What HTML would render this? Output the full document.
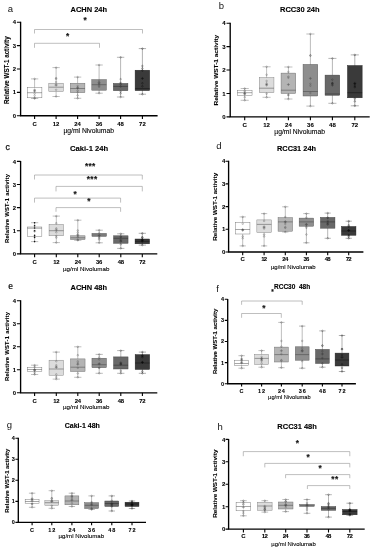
<!DOCTYPE html>
<html lang="en">
<head>
<meta charset="utf-8">
<title>Relative WST-1 activity under Nivolumab</title>
<style>
html,body{margin:0;padding:0;background:#fff;}
body{width:373px;height:550px;overflow:hidden;font-family:"Liberation Sans",Arial,sans-serif;}
svg{display:block;}
text{font-family:"Liberation Sans",Arial,sans-serif;fill:#111;}
.br{fill:none;stroke:#8a8a8a;stroke-width:.55;}
.st{font-weight:bold;text-anchor:middle;fill:#111;stroke:#111;stroke-width:.15;}
.wh{fill:none;stroke-width:.4;}
.pt{fill:none;stroke-width:.3;}
.mn{fill:none;stroke-width:.4;}
.bx{stroke-width:.42;}
.md{fill:none;stroke-width:.45;}
.axl{fill:none;stroke:#000;stroke-width:1.35;stroke-linejoin:miter;}
.tk{fill:none;stroke:#000;stroke-width:1.1;}
.tl{font-weight:bold;fill:#000;stroke:#000;stroke-width:.08;}
.ti{font-weight:bold;fill:#000;stroke:#000;stroke-width:.12;}
.xl{fill:#000;stroke:#000;stroke-width:.1;}
.yl{font-weight:bold;fill:#000;stroke:#000;stroke-width:.1;}
.lb{fill:#111;}
</style>
</head>
<body>
<svg width="373" height="550" viewBox="0 0 373 550">
<rect width="373" height="550" fill="#fff"/>
<g id="panel-a">
<path class="br" d="M34.5 33.5V29.5H142.5V33.5"/>
<text class="st" font-size="8.3" x="85.2" y="23.05">*</text>
<path class="br" d="M34.5 47.8V43.3H99.5V47.8"/>
<text class="st" font-size="8.3" x="67.5" y="39.45">*</text>
<path class="wh" stroke="#606060" d="M34.6 78.9V98.5M30.95 78.9H38.25M30.95 98.5H38.25"/>
<rect class="bx" x="27.3" y="87.7" width="14.6" height="10.1" fill="#ffffff" stroke="#666"/>
<path class="md" stroke="#3a3a3a" d="M27.3 92.7H41.9"/>
<path class="pt" stroke="#444" d="M33.8 78.9a.8 .8 0 1 0 1.6 0a.8 .8 0 1 0-1.6 0M33.8 98.5a.8 .8 0 1 0 1.6 0a.8 .8 0 1 0-1.6 0M33.8 93.66a.8 .8 0 1 0 1.6 0a.8 .8 0 1 0-1.6 0M33.8 89.74a.8 .8 0 1 0 1.6 0a.8 .8 0 1 0-1.6 0M33.8 97.91a.8 .8 0 1 0 1.6 0a.8 .8 0 1 0-1.6 0M33.8 90.5a.8 .8 0 1 0 1.6 0a.8 .8 0 1 0-1.6 0M33.8 95.68a.8 .8 0 1 0 1.6 0a.8 .8 0 1 0-1.6 0"/>
<path class="mn" stroke="#444" d="M33.1 91.12h3M34.6 89.62v3"/>
<path class="wh" stroke="#666" d="M56.1 67.6V96.5M52.45 67.6H59.75M52.45 96.5H59.75"/>
<rect class="bx" x="48.8" y="83.2" width="14.6" height="8.3" fill="#dcdcdc" stroke="#777"/>
<path class="md" stroke="#3a3a3a" d="M48.8 87.2H63.4"/>
<path class="pt" stroke="#444" d="M55.3 67.6a.8 .8 0 1 0 1.6 0a.8 .8 0 1 0-1.6 0M55.3 96.5a.8 .8 0 1 0 1.6 0a.8 .8 0 1 0-1.6 0M55.3 82a.8 .8 0 1 0 1.6 0a.8 .8 0 1 0-1.6 0M55.3 78.12a.8 .8 0 1 0 1.6 0a.8 .8 0 1 0-1.6 0M55.3 84.54a.8 .8 0 1 0 1.6 0a.8 .8 0 1 0-1.6 0M55.3 78.88a.8 .8 0 1 0 1.6 0a.8 .8 0 1 0-1.6 0M55.3 89.74a.8 .8 0 1 0 1.6 0a.8 .8 0 1 0-1.6 0"/>
<path class="mn" stroke="#444" d="M54.6 85.2h3M56.1 83.7v3"/>
<path class="wh" stroke="#5e5e5e" d="M77.6 77.1V98.3M73.95 77.1H81.25M73.95 98.3H81.25"/>
<rect class="bx" x="70.3" y="83.2" width="14.6" height="9.5" fill="#b4b4b4" stroke="#636363"/>
<path class="md" stroke="#3a3a3a" d="M70.3 88.5H84.9"/>
<path class="pt" stroke="#444" d="M76.8 77.1a.8 .8 0 1 0 1.6 0a.8 .8 0 1 0-1.6 0M76.8 98.3a.8 .8 0 1 0 1.6 0a.8 .8 0 1 0-1.6 0M76.8 87.73a.8 .8 0 1 0 1.6 0a.8 .8 0 1 0-1.6 0M76.8 85.98a.8 .8 0 1 0 1.6 0a.8 .8 0 1 0-1.6 0M76.8 90.43a.8 .8 0 1 0 1.6 0a.8 .8 0 1 0-1.6 0M76.8 95.44a.8 .8 0 1 0 1.6 0a.8 .8 0 1 0-1.6 0M76.8 92.1a.8 .8 0 1 0 1.6 0a.8 .8 0 1 0-1.6 0"/>
<path class="mn" stroke="#444" d="M76.1 87.96h3M77.6 86.46v3"/>
<path class="wh" stroke="#555" d="M99.1 65V93.2M95.45 65H102.75M95.45 93.2H102.75"/>
<rect class="bx" x="91.8" y="79.6" width="14.6" height="10.6" fill="#8e8e8e" stroke="#505050"/>
<path class="md" stroke="#3a3a3a" d="M91.8 84.7H106.4"/>
<path class="pt" stroke="#444" d="M98.3 65a.8 .8 0 1 0 1.6 0a.8 .8 0 1 0-1.6 0M98.3 93.2a.8 .8 0 1 0 1.6 0a.8 .8 0 1 0-1.6 0M98.3 85.62a.8 .8 0 1 0 1.6 0a.8 .8 0 1 0-1.6 0M98.3 84.08a.8 .8 0 1 0 1.6 0a.8 .8 0 1 0-1.6 0M98.3 86.79a.8 .8 0 1 0 1.6 0a.8 .8 0 1 0-1.6 0M98.3 80.92a.8 .8 0 1 0 1.6 0a.8 .8 0 1 0-1.6 0M98.3 83.58a.8 .8 0 1 0 1.6 0a.8 .8 0 1 0-1.6 0"/>
<path class="mn" stroke="#444" d="M97.6 82.54h3M99.1 81.04v3"/>
<path class="wh" stroke="#4a4a4a" d="M120.6 57.3V97M116.95 57.3H124.25M116.95 97H124.25"/>
<rect class="bx" x="113.3" y="83.4" width="14.6" height="7.3" fill="#686868" stroke="#3c3c3c"/>
<path class="md" stroke="#222" d="M113.3 86.4H127.9"/>
<path class="pt" stroke="#2a2a2a" d="M119.8 57.3a.8 .8 0 1 0 1.6 0a.8 .8 0 1 0-1.6 0M119.8 97a.8 .8 0 1 0 1.6 0a.8 .8 0 1 0-1.6 0M119.8 79.15a.8 .8 0 1 0 1.6 0a.8 .8 0 1 0-1.6 0M119.8 86.56a.8 .8 0 1 0 1.6 0a.8 .8 0 1 0-1.6 0M119.8 84.48a.8 .8 0 1 0 1.6 0a.8 .8 0 1 0-1.6 0M119.8 91.68a.8 .8 0 1 0 1.6 0a.8 .8 0 1 0-1.6 0M119.8 93.45a.8 .8 0 1 0 1.6 0a.8 .8 0 1 0-1.6 0"/>
<path class="mn" stroke="#2a2a2a" d="M119.1 82.96h3M120.6 81.46v3"/>
<path class="wh" stroke="#3a3a3a" d="M142.4 48.6V94.2M138.75 48.6H146.05M138.75 94.2H146.05"/>
<rect class="bx" x="135.1" y="70.2" width="14.6" height="20.4" fill="#3a3a3a" stroke="#1e1e1e"/>
<path class="md" stroke="#0c0c0c" d="M135.1 88.6H149.7"/>
<path class="pt" stroke="#000" d="M141.6 48.6a.8 .8 0 1 0 1.6 0a.8 .8 0 1 0-1.6 0M141.6 94.2a.8 .8 0 1 0 1.6 0a.8 .8 0 1 0-1.6 0M141.6 70.55a.8 .8 0 1 0 1.6 0a.8 .8 0 1 0-1.6 0M141.6 86.29a.8 .8 0 1 0 1.6 0a.8 .8 0 1 0-1.6 0M141.6 68.46a.8 .8 0 1 0 1.6 0a.8 .8 0 1 0-1.6 0M141.6 83.24a.8 .8 0 1 0 1.6 0a.8 .8 0 1 0-1.6 0M141.6 65.98a.8 .8 0 1 0 1.6 0a.8 .8 0 1 0-1.6 0"/>
<path class="mn" stroke="#000" d="M140.9 78.44h3M142.4 76.94v3"/>
<path class="axl" d="M20.6 21.8V115.7H157.6"/>
<path class="tk" d="M16.9 115.7H20.6M16.9 92.33H20.6M16.9 68.95H20.6M16.9 45.58H20.6M16.9 22.2H20.6M34.6 115.7V119M56.1 115.7V119M77.6 115.7V119M99.1 115.7V119M120.6 115.7V119M142.4 115.7V119"/>
<text class="tl" font-size="5.9" text-anchor="end" x="16" y="117.82">0</text>
<text class="tl" font-size="5.9" text-anchor="end" x="16" y="94.45">1</text>
<text class="tl" font-size="5.9" text-anchor="end" x="16" y="71.07">2</text>
<text class="tl" font-size="5.9" text-anchor="end" x="16" y="47.7">3</text>
<text class="tl" font-size="5.9" text-anchor="end" x="16" y="24.32">4</text>
<text class="tl" font-size="5.9" text-anchor="middle" x="34.6" y="125.72">C</text>
<text class="tl" font-size="5.9" text-anchor="middle" x="56.1" y="125.72">12</text>
<text class="tl" font-size="5.9" text-anchor="middle" x="77.6" y="125.72">24</text>
<text class="tl" font-size="5.9" text-anchor="middle" x="99.1" y="125.72">36</text>
<text class="tl" font-size="5.9" text-anchor="middle" x="120.6" y="125.72">48</text>
<text class="tl" font-size="5.9" text-anchor="middle" x="142.4" y="125.72">72</text>
<text class="ti" font-size="7.4" text-anchor="middle" x="88.8" y="12" style="white-space:pre" textLength="36.4" lengthAdjust="spacingAndGlyphs">ACHN 24h</text>
<text class="xl" font-size="6.8" text-anchor="middle" x="88.7" y="132.5" textLength="50.6" lengthAdjust="spacingAndGlyphs">µg/ml Nivolumab</text>
<text class="yl" font-size="6.3" transform="translate(8.5 104) rotate(-90)" textLength="67.6" lengthAdjust="spacingAndGlyphs">Relative WST-1 activity</text>
<text class="lb" style='font-family:"Liberation Sans",Arial,sans-serif' font-size="9.5" font-weight="normal" text-anchor="middle" x="10.5" y="11.6">a</text>
</g>
<g id="panel-b">
<path class="wh" stroke="#606060" d="M244.7 88.5V100.3M240.66 88.5H248.74M240.66 100.3H248.74"/>
<rect class="bx" x="237.35" y="90.2" width="14.7" height="5.1" fill="#ffffff" stroke="#666"/>
<path class="md" stroke="#3a3a3a" d="M237.35 92.7H252.05"/>
<path class="pt" stroke="#444" d="M243.9 88.5a.8 .8 0 1 0 1.6 0a.8 .8 0 1 0-1.6 0M243.9 100.3a.8 .8 0 1 0 1.6 0a.8 .8 0 1 0-1.6 0M243.9 90.76a.8 .8 0 1 0 1.6 0a.8 .8 0 1 0-1.6 0M243.9 93.8a.8 .8 0 1 0 1.6 0a.8 .8 0 1 0-1.6 0M243.9 97.2a.8 .8 0 1 0 1.6 0a.8 .8 0 1 0-1.6 0M243.9 94.15a.8 .8 0 1 0 1.6 0a.8 .8 0 1 0-1.6 0M243.9 91.91a.8 .8 0 1 0 1.6 0a.8 .8 0 1 0-1.6 0"/>
<path class="mn" stroke="#444" d="M243.2 93.4h3M244.7 91.9v3"/>
<path class="wh" stroke="#666" d="M266.6 66.8V97.3M262.56 66.8H270.64M262.56 97.3H270.64"/>
<rect class="bx" x="259.25" y="77.6" width="14.7" height="15.1" fill="#dcdcdc" stroke="#777"/>
<path class="md" stroke="#3a3a3a" d="M259.25 88.2H273.95"/>
<path class="pt" stroke="#444" d="M265.8 66.8a.8 .8 0 1 0 1.6 0a.8 .8 0 1 0-1.6 0M265.8 97.3a.8 .8 0 1 0 1.6 0a.8 .8 0 1 0-1.6 0M265.8 74.78a.8 .8 0 1 0 1.6 0a.8 .8 0 1 0-1.6 0M265.8 93.7a.8 .8 0 1 0 1.6 0a.8 .8 0 1 0-1.6 0M265.8 80.96a.8 .8 0 1 0 1.6 0a.8 .8 0 1 0-1.6 0M265.8 85.35a.8 .8 0 1 0 1.6 0a.8 .8 0 1 0-1.6 0M265.8 83.4a.8 .8 0 1 0 1.6 0a.8 .8 0 1 0-1.6 0"/>
<path class="mn" stroke="#444" d="M265.1 84.52h3M266.6 83.02v3"/>
<path class="wh" stroke="#5e5e5e" d="M288.4 67V99M284.36 67H292.44M284.36 99H292.44"/>
<rect class="bx" x="281.05" y="73.1" width="14.7" height="20.4" fill="#b4b4b4" stroke="#636363"/>
<path class="md" stroke="#3a3a3a" d="M281.05 90.2H295.75"/>
<path class="pt" stroke="#444" d="M287.6 67a.8 .8 0 1 0 1.6 0a.8 .8 0 1 0-1.6 0M287.6 99a.8 .8 0 1 0 1.6 0a.8 .8 0 1 0-1.6 0M287.6 95.24a.8 .8 0 1 0 1.6 0a.8 .8 0 1 0-1.6 0M287.6 94.75a.8 .8 0 1 0 1.6 0a.8 .8 0 1 0-1.6 0M287.6 76.61a.8 .8 0 1 0 1.6 0a.8 .8 0 1 0-1.6 0M287.6 71.88a.8 .8 0 1 0 1.6 0a.8 .8 0 1 0-1.6 0M287.6 77.79a.8 .8 0 1 0 1.6 0a.8 .8 0 1 0-1.6 0"/>
<path class="mn" stroke="#444" d="M286.9 84.56h3M288.4 83.06v3"/>
<path class="wh" stroke="#555" d="M310.4 34V106.1M306.36 34H314.44M306.36 106.1H314.44"/>
<rect class="bx" x="303.05" y="64.4" width="14.7" height="31.6" fill="#8e8e8e" stroke="#505050"/>
<path class="md" stroke="#3a3a3a" d="M303.05 91.5H317.75"/>
<path class="pt" stroke="#444" d="M309.6 34a.8 .8 0 1 0 1.6 0a.8 .8 0 1 0-1.6 0M309.6 106.1a.8 .8 0 1 0 1.6 0a.8 .8 0 1 0-1.6 0M309.6 55.7a.8 .8 0 1 0 1.6 0a.8 .8 0 1 0-1.6 0M309.6 55.3a.8 .8 0 1 0 1.6 0a.8 .8 0 1 0-1.6 0M309.6 85.76a.8 .8 0 1 0 1.6 0a.8 .8 0 1 0-1.6 0M309.6 92.99a.8 .8 0 1 0 1.6 0a.8 .8 0 1 0-1.6 0M309.6 83.83a.8 .8 0 1 0 1.6 0a.8 .8 0 1 0-1.6 0"/>
<path class="mn" stroke="#444" d="M308.9 78.4h3M310.4 76.9v3"/>
<path class="wh" stroke="#4a4a4a" d="M332.4 58.4V103.3M328.36 58.4H336.44M328.36 103.3H336.44"/>
<rect class="bx" x="325.05" y="75.1" width="14.7" height="20.2" fill="#686868" stroke="#3c3c3c"/>
<path class="md" stroke="#222" d="M325.05 94H339.75"/>
<path class="pt" stroke="#2a2a2a" d="M331.6 58.4a.8 .8 0 1 0 1.6 0a.8 .8 0 1 0-1.6 0M331.6 103.3a.8 .8 0 1 0 1.6 0a.8 .8 0 1 0-1.6 0M331.6 83.35a.8 .8 0 1 0 1.6 0a.8 .8 0 1 0-1.6 0M331.6 83.24a.8 .8 0 1 0 1.6 0a.8 .8 0 1 0-1.6 0M331.6 79.67a.8 .8 0 1 0 1.6 0a.8 .8 0 1 0-1.6 0M331.6 84.36a.8 .8 0 1 0 1.6 0a.8 .8 0 1 0-1.6 0M331.6 83.06a.8 .8 0 1 0 1.6 0a.8 .8 0 1 0-1.6 0"/>
<path class="mn" stroke="#2a2a2a" d="M330.9 85.22h3M332.4 83.72v3"/>
<path class="wh" stroke="#3a3a3a" d="M354.8 54.9V105.8M350.76 54.9H358.84M350.76 105.8H358.84"/>
<rect class="bx" x="347.45" y="65.5" width="14.7" height="32.3" fill="#3a3a3a" stroke="#1e1e1e"/>
<path class="md" stroke="#0c0c0c" d="M347.45 92.7H362.15"/>
<path class="pt" stroke="#000" d="M354 54.9a.8 .8 0 1 0 1.6 0a.8 .8 0 1 0-1.6 0M354 105.8a.8 .8 0 1 0 1.6 0a.8 .8 0 1 0-1.6 0M354 84.03a.8 .8 0 1 0 1.6 0a.8 .8 0 1 0-1.6 0M354 98.66a.8 .8 0 1 0 1.6 0a.8 .8 0 1 0-1.6 0M354 86.01a.8 .8 0 1 0 1.6 0a.8 .8 0 1 0-1.6 0M354 87.17a.8 .8 0 1 0 1.6 0a.8 .8 0 1 0-1.6 0M354 101.37a.8 .8 0 1 0 1.6 0a.8 .8 0 1 0-1.6 0"/>
<path class="mn" stroke="#000" d="M353.3 83.34h3M354.8 81.84v3"/>
<path class="axl" d="M230.2 22.8V116.85H369.7"/>
<path class="tk" d="M226.5 116.85H230.2M226.5 93.44H230.2M226.5 70.03H230.2M226.5 46.61H230.2M226.5 23.2H230.2M244.7 116.85V120.15M266.6 116.85V120.15M288.4 116.85V120.15M310.4 116.85V120.15M332.4 116.85V120.15M354.8 116.85V120.15"/>
<text class="tl" font-size="6.05" text-anchor="end" x="225.6" y="119.03">0</text>
<text class="tl" font-size="6.05" text-anchor="end" x="225.6" y="95.62">1</text>
<text class="tl" font-size="6.05" text-anchor="end" x="225.6" y="72.2">2</text>
<text class="tl" font-size="6.05" text-anchor="end" x="225.6" y="48.79">3</text>
<text class="tl" font-size="6.05" text-anchor="end" x="225.6" y="25.38">4</text>
<text class="tl" font-size="6.05" text-anchor="middle" x="244.7" y="127.23">C</text>
<text class="tl" font-size="6.05" text-anchor="middle" x="266.6" y="127.23">12</text>
<text class="tl" font-size="6.05" text-anchor="middle" x="288.4" y="127.23">24</text>
<text class="tl" font-size="6.05" text-anchor="middle" x="310.4" y="127.23">36</text>
<text class="tl" font-size="6.05" text-anchor="middle" x="332.4" y="127.23">48</text>
<text class="tl" font-size="6.05" text-anchor="middle" x="354.8" y="127.23">72</text>
<text class="ti" font-size="7.5" text-anchor="middle" x="299.8" y="12.2" style="white-space:pre" textLength="39.6" lengthAdjust="spacingAndGlyphs">RCC30 24h</text>
<text class="xl" font-size="6.8" text-anchor="middle" x="299.6" y="134" textLength="50.7" lengthAdjust="spacingAndGlyphs">µg/ml Nivolumab</text>
<text class="yl" font-size="6.2" transform="translate(218.1 105.5) rotate(-90)" textLength="70.6" lengthAdjust="spacingAndGlyphs">Relative WST-1 activity</text>
<text class="lb" style='font-family:"Liberation Sans",Arial,sans-serif' font-size="9.5" font-weight="normal" text-anchor="middle" x="221.4" y="9">b</text>
</g>
<g id="panel-c">
<path class="br" d="M34.5 179.5V175H142.3V179.5"/>
<text class="st" font-size="8.3" letter-spacing=".3" x="90.25" y="168.55">***</text>
<path class="br" d="M56 191.4V186.4H142.3V191.4"/>
<text class="st" font-size="8.3" letter-spacing=".3" x="92.15" y="182.35">***</text>
<path class="br" d="M34.5 202.6V198.1H120.6V202.6"/>
<text class="st" font-size="8.3" x="75.1" y="196.55">*</text>
<path class="br" d="M56 211.8V207.6H120.6V211.8"/>
<text class="st" font-size="8.3" x="88.9" y="203.55">*</text>
<path class="wh" stroke="#606060" d="M34.6 222.7V241.6M30.98 222.7H38.23M30.98 241.6H38.23"/>
<rect class="bx" x="27.35" y="227" width="14.5" height="9.3" fill="#ffffff" stroke="#666"/>
<path class="md" stroke="#3a3a3a" d="M27.35 228.2H41.85"/>
<path d="M33.8 222.7a.8 .8 0 1 0 1.6 0a.8 .8 0 1 0-1.6 0M33.8 241.6a.8 .8 0 1 0 1.6 0a.8 .8 0 1 0-1.6 0M33.8 227.97a.8 .8 0 1 0 1.6 0a.8 .8 0 1 0-1.6 0M33.8 230.72a.8 .8 0 1 0 1.6 0a.8 .8 0 1 0-1.6 0M33.8 225.72a.8 .8 0 1 0 1.6 0a.8 .8 0 1 0-1.6 0M33.8 237.39a.8 .8 0 1 0 1.6 0a.8 .8 0 1 0-1.6 0M33.8 235.4a.8 .8 0 1 0 1.6 0a.8 .8 0 1 0-1.6 0" fill="#111" stroke="none"/>
<path class="mn" stroke="#444" d="M33.1 231.16h3M34.6 229.66v3"/>
<path class="wh" stroke="#666" d="M56.3 216.1V242.6M52.67 216.1H59.92M52.67 242.6H59.92"/>
<rect class="bx" x="49.05" y="224.4" width="14.5" height="11.4" fill="#dcdcdc" stroke="#777"/>
<path class="md" stroke="#3a3a3a" d="M49.05 230.7H63.55"/>
<path class="pt" stroke="#444" d="M55.5 216.1a.8 .8 0 1 0 1.6 0a.8 .8 0 1 0-1.6 0M55.5 242.6a.8 .8 0 1 0 1.6 0a.8 .8 0 1 0-1.6 0M55.5 232.31a.8 .8 0 1 0 1.6 0a.8 .8 0 1 0-1.6 0M55.5 235.91a.8 .8 0 1 0 1.6 0a.8 .8 0 1 0-1.6 0M55.5 237.57a.8 .8 0 1 0 1.6 0a.8 .8 0 1 0-1.6 0M55.5 223.17a.8 .8 0 1 0 1.6 0a.8 .8 0 1 0-1.6 0M55.5 228.37a.8 .8 0 1 0 1.6 0a.8 .8 0 1 0-1.6 0"/>
<path class="mn" stroke="#444" d="M54.8 229.92h3M56.3 228.42v3"/>
<path class="wh" stroke="#5e5e5e" d="M77.8 220.2V240.3M74.17 220.2H81.42M74.17 240.3H81.42"/>
<rect class="bx" x="70.55" y="235.8" width="14.5" height="3.8" fill="#b4b4b4" stroke="#636363"/>
<path class="md" stroke="#3a3a3a" d="M70.55 237.8H85.05"/>
<path class="pt" stroke="#444" d="M77 220.2a.8 .8 0 1 0 1.6 0a.8 .8 0 1 0-1.6 0M77 240.3a.8 .8 0 1 0 1.6 0a.8 .8 0 1 0-1.6 0M77 230.45a.8 .8 0 1 0 1.6 0a.8 .8 0 1 0-1.6 0M77 235.88a.8 .8 0 1 0 1.6 0a.8 .8 0 1 0-1.6 0M77 232.5a.8 .8 0 1 0 1.6 0a.8 .8 0 1 0-1.6 0M77 237.34a.8 .8 0 1 0 1.6 0a.8 .8 0 1 0-1.6 0M77 239.81a.8 .8 0 1 0 1.6 0a.8 .8 0 1 0-1.6 0"/>
<path class="mn" stroke="#444" d="M76.3 234.74h3M77.8 233.24v3"/>
<path class="wh" stroke="#555" d="M99.2 230.2V242.8M95.58 230.2H102.83M95.58 242.8H102.83"/>
<rect class="bx" x="91.95" y="233.3" width="14.5" height="3.2" fill="#8e8e8e" stroke="#505050"/>
<path class="md" stroke="#3a3a3a" d="M91.95 235H106.45"/>
<path class="pt" stroke="#444" d="M98.4 230.2a.8 .8 0 1 0 1.6 0a.8 .8 0 1 0-1.6 0M98.4 242.8a.8 .8 0 1 0 1.6 0a.8 .8 0 1 0-1.6 0M98.4 233.28a.8 .8 0 1 0 1.6 0a.8 .8 0 1 0-1.6 0M98.4 238.23a.8 .8 0 1 0 1.6 0a.8 .8 0 1 0-1.6 0M98.4 239.52a.8 .8 0 1 0 1.6 0a.8 .8 0 1 0-1.6 0M98.4 237.3a.8 .8 0 1 0 1.6 0a.8 .8 0 1 0-1.6 0M98.4 235.43a.8 .8 0 1 0 1.6 0a.8 .8 0 1 0-1.6 0"/>
<path class="mn" stroke="#444" d="M97.7 235.56h3M99.2 234.06v3"/>
<path class="wh" stroke="#4a4a4a" d="M120.8 233.8V248.4M117.17 233.8H124.42M117.17 248.4H124.42"/>
<rect class="bx" x="113.55" y="235.8" width="14.5" height="7.5" fill="#686868" stroke="#3c3c3c"/>
<path class="md" stroke="#222" d="M113.55 238.3H128.05"/>
<path class="pt" stroke="#2a2a2a" d="M120 233.8a.8 .8 0 1 0 1.6 0a.8 .8 0 1 0-1.6 0M120 248.4a.8 .8 0 1 0 1.6 0a.8 .8 0 1 0-1.6 0M120 236.99a.8 .8 0 1 0 1.6 0a.8 .8 0 1 0-1.6 0M120 241.44a.8 .8 0 1 0 1.6 0a.8 .8 0 1 0-1.6 0M120 236.72a.8 .8 0 1 0 1.6 0a.8 .8 0 1 0-1.6 0M120 241.11a.8 .8 0 1 0 1.6 0a.8 .8 0 1 0-1.6 0M120 244.38a.8 .8 0 1 0 1.6 0a.8 .8 0 1 0-1.6 0"/>
<path class="mn" stroke="#2a2a2a" d="M119.3 239.92h3M120.8 238.42v3"/>
<path class="wh" stroke="#3a3a3a" d="M142.3 233.3V245.1M138.68 233.3H145.93M138.68 245.1H145.93"/>
<rect class="bx" x="135.05" y="239" width="14.5" height="4.8" fill="#3a3a3a" stroke="#1e1e1e"/>
<path class="md" stroke="#0c0c0c" d="M135.05 241.3H149.55"/>
<path class="pt" stroke="#000" d="M141.5 233.3a.8 .8 0 1 0 1.6 0a.8 .8 0 1 0-1.6 0M141.5 245.1a.8 .8 0 1 0 1.6 0a.8 .8 0 1 0-1.6 0M141.5 239.21a.8 .8 0 1 0 1.6 0a.8 .8 0 1 0-1.6 0M141.5 237.58a.8 .8 0 1 0 1.6 0a.8 .8 0 1 0-1.6 0M141.5 241.67a.8 .8 0 1 0 1.6 0a.8 .8 0 1 0-1.6 0M141.5 237.2a.8 .8 0 1 0 1.6 0a.8 .8 0 1 0-1.6 0M141.5 239.98a.8 .8 0 1 0 1.6 0a.8 .8 0 1 0-1.6 0"/>
<path class="mn" stroke="#000" d="M140.8 240.5h3M142.3 239v3"/>
<path class="axl" d="M20.6 161V253.9H157.3"/>
<path class="tk" d="M16.9 253.9H20.6M16.9 230.78H20.6M16.9 207.65H20.6M16.9 184.53H20.6M16.9 161.4H20.6M34.6 253.9V257.2M56.3 253.9V257.2M77.8 253.9V257.2M99.2 253.9V257.2M120.8 253.9V257.2M142.3 253.9V257.2"/>
<text class="tl" font-size="5.9" text-anchor="end" x="16" y="256.02">0</text>
<text class="tl" font-size="5.9" text-anchor="end" x="16" y="232.9">1</text>
<text class="tl" font-size="5.9" text-anchor="end" x="16" y="209.77">2</text>
<text class="tl" font-size="5.9" text-anchor="end" x="16" y="186.65">3</text>
<text class="tl" font-size="5.9" text-anchor="end" x="16" y="163.52">4</text>
<text class="tl" font-size="5.9" text-anchor="middle" letter-spacing="-0.3" x="34.45" y="263.92">C</text>
<text class="tl" font-size="5.9" text-anchor="middle" letter-spacing="-0.3" x="56.15" y="263.92">12</text>
<text class="tl" font-size="5.9" text-anchor="middle" letter-spacing="-0.3" x="77.65" y="263.92">24</text>
<text class="tl" font-size="5.9" text-anchor="middle" letter-spacing="-0.3" x="99.05" y="263.92">36</text>
<text class="tl" font-size="5.9" text-anchor="middle" letter-spacing="-0.3" x="120.65" y="263.92">48</text>
<text class="tl" font-size="5.9" text-anchor="middle" letter-spacing="-0.3" x="142.15" y="263.92">72</text>
<text class="ti" font-size="7.5" text-anchor="middle" x="89.1" y="151.2" style="white-space:pre" textLength="38.2" lengthAdjust="spacingAndGlyphs">Caki-1 24h</text>
<text class="xl" font-size="6.2" text-anchor="middle" x="86.2" y="270.5" textLength="46.5" lengthAdjust="spacingAndGlyphs">µg/ml Nivolumab</text>
<text class="yl" font-size="5.9" transform="translate(8.5 243.05) rotate(-90)" textLength="69.1" lengthAdjust="spacing">Relative WST-1 activity</text>
<text class="lb" style='font-family:"Liberation Sans",Arial,sans-serif' font-size="8.8" font-weight="normal" text-anchor="middle" stroke="#111" stroke-width="0.25" x="7.8" y="150.1">c</text>
</g>
<g id="panel-d">
<path class="wh" stroke="#606060" d="M242.7 216.9V245.9M239.58 216.9H245.82M239.58 245.9H245.82"/>
<rect class="bx" x="235.45" y="222.4" width="14.5" height="11.6" fill="#ffffff" stroke="#666"/>
<path class="md" stroke="#3a3a3a" d="M235.45 229.5H249.95"/>
<path class="pt" stroke="#444" d="M241.9 216.9a.8 .8 0 1 0 1.6 0a.8 .8 0 1 0-1.6 0M241.9 245.9a.8 .8 0 1 0 1.6 0a.8 .8 0 1 0-1.6 0M241.9 230a.8 .8 0 1 0 1.6 0a.8 .8 0 1 0-1.6 0M241.9 236.44a.8 .8 0 1 0 1.6 0a.8 .8 0 1 0-1.6 0M241.9 223.74a.8 .8 0 1 0 1.6 0a.8 .8 0 1 0-1.6 0M241.9 230.21a.8 .8 0 1 0 1.6 0a.8 .8 0 1 0-1.6 0M241.9 238.32a.8 .8 0 1 0 1.6 0a.8 .8 0 1 0-1.6 0"/>
<path class="mn" stroke="#444" d="M241.2 229.74h3M242.7 228.24v3"/>
<path class="wh" stroke="#666" d="M264.1 213.6V245.9M260.98 213.6H267.22M260.98 245.9H267.22"/>
<rect class="bx" x="256.85" y="219.9" width="14.5" height="12.6" fill="#dcdcdc" stroke="#777"/>
<path class="md" stroke="#3a3a3a" d="M256.85 224.4H271.35"/>
<path class="pt" stroke="#444" d="M263.3 213.6a.8 .8 0 1 0 1.6 0a.8 .8 0 1 0-1.6 0M263.3 245.9a.8 .8 0 1 0 1.6 0a.8 .8 0 1 0-1.6 0M263.3 234.55a.8 .8 0 1 0 1.6 0a.8 .8 0 1 0-1.6 0M263.3 226.76a.8 .8 0 1 0 1.6 0a.8 .8 0 1 0-1.6 0M263.3 236.52a.8 .8 0 1 0 1.6 0a.8 .8 0 1 0-1.6 0M263.3 228.58a.8 .8 0 1 0 1.6 0a.8 .8 0 1 0-1.6 0M263.3 220.96a.8 .8 0 1 0 1.6 0a.8 .8 0 1 0-1.6 0"/>
<path class="mn" stroke="#444" d="M262.6 227.26h3M264.1 225.76v3"/>
<path class="wh" stroke="#5e5e5e" d="M285.3 206.8V232M282.18 206.8H288.42M282.18 232H288.42"/>
<rect class="bx" x="278.05" y="217.6" width="14.5" height="13.6" fill="#b4b4b4" stroke="#636363"/>
<path class="md" stroke="#3a3a3a" d="M278.05 221.9H292.55"/>
<path class="pt" stroke="#444" d="M284.5 206.8a.8 .8 0 1 0 1.6 0a.8 .8 0 1 0-1.6 0M284.5 232a.8 .8 0 1 0 1.6 0a.8 .8 0 1 0-1.6 0M284.5 221.79a.8 .8 0 1 0 1.6 0a.8 .8 0 1 0-1.6 0M284.5 223.96a.8 .8 0 1 0 1.6 0a.8 .8 0 1 0-1.6 0M284.5 217.03a.8 .8 0 1 0 1.6 0a.8 .8 0 1 0-1.6 0M284.5 227.88a.8 .8 0 1 0 1.6 0a.8 .8 0 1 0-1.6 0M284.5 227.09a.8 .8 0 1 0 1.6 0a.8 .8 0 1 0-1.6 0"/>
<path class="mn" stroke="#444" d="M283.8 221.9h3M285.3 220.4v3"/>
<path class="wh" stroke="#555" d="M306.4 213.6V242.8M303.28 213.6H309.52M303.28 242.8H309.52"/>
<rect class="bx" x="299.15" y="218.1" width="14.5" height="8.1" fill="#8e8e8e" stroke="#505050"/>
<path class="md" stroke="#3a3a3a" d="M299.15 221.9H313.65"/>
<path class="pt" stroke="#444" d="M305.6 213.6a.8 .8 0 1 0 1.6 0a.8 .8 0 1 0-1.6 0M305.6 242.8a.8 .8 0 1 0 1.6 0a.8 .8 0 1 0-1.6 0M305.6 224.21a.8 .8 0 1 0 1.6 0a.8 .8 0 1 0-1.6 0M305.6 234.5a.8 .8 0 1 0 1.6 0a.8 .8 0 1 0-1.6 0M305.6 226.27a.8 .8 0 1 0 1.6 0a.8 .8 0 1 0-1.6 0M305.6 217.72a.8 .8 0 1 0 1.6 0a.8 .8 0 1 0-1.6 0M305.6 227.75a.8 .8 0 1 0 1.6 0a.8 .8 0 1 0-1.6 0"/>
<path class="mn" stroke="#444" d="M304.9 224.52h3M306.4 223.02v3"/>
<path class="wh" stroke="#4a4a4a" d="M327.7 213.1V238.3M324.58 213.1H330.82M324.58 238.3H330.82"/>
<rect class="bx" x="320.45" y="217.4" width="14.5" height="10.8" fill="#686868" stroke="#3c3c3c"/>
<path class="md" stroke="#222" d="M320.45 221.9H334.95"/>
<path class="pt" stroke="#2a2a2a" d="M326.9 213.1a.8 .8 0 1 0 1.6 0a.8 .8 0 1 0-1.6 0M326.9 238.3a.8 .8 0 1 0 1.6 0a.8 .8 0 1 0-1.6 0M326.9 217.83a.8 .8 0 1 0 1.6 0a.8 .8 0 1 0-1.6 0M326.9 224.45a.8 .8 0 1 0 1.6 0a.8 .8 0 1 0-1.6 0M326.9 222.27a.8 .8 0 1 0 1.6 0a.8 .8 0 1 0-1.6 0M326.9 217.79a.8 .8 0 1 0 1.6 0a.8 .8 0 1 0-1.6 0M326.9 220.98a.8 .8 0 1 0 1.6 0a.8 .8 0 1 0-1.6 0"/>
<path class="mn" stroke="#2a2a2a" d="M326.2 223.78h3M327.7 222.28v3"/>
<path class="wh" stroke="#3a3a3a" d="M348.7 221.2V238.3M345.58 221.2H351.82M345.58 238.3H351.82"/>
<rect class="bx" x="341.45" y="226.5" width="14.5" height="8.8" fill="#3a3a3a" stroke="#1e1e1e"/>
<path class="md" stroke="#0c0c0c" d="M341.45 231H355.95"/>
<path class="pt" stroke="#000" d="M347.9 221.2a.8 .8 0 1 0 1.6 0a.8 .8 0 1 0-1.6 0M347.9 238.3a.8 .8 0 1 0 1.6 0a.8 .8 0 1 0-1.6 0M347.9 230.45a.8 .8 0 1 0 1.6 0a.8 .8 0 1 0-1.6 0M347.9 226.64a.8 .8 0 1 0 1.6 0a.8 .8 0 1 0-1.6 0M347.9 235.07a.8 .8 0 1 0 1.6 0a.8 .8 0 1 0-1.6 0M347.9 225.26a.8 .8 0 1 0 1.6 0a.8 .8 0 1 0-1.6 0M347.9 236.3a.8 .8 0 1 0 1.6 0a.8 .8 0 1 0-1.6 0"/>
<path class="mn" stroke="#000" d="M347.2 230.46h3M348.7 228.96v3"/>
<path class="axl" d="M228.6 160.8V252H363.4"/>
<path class="tk" d="M225.6 252H228.6M225.6 229.3H228.6M225.6 206.6H228.6M225.6 183.9H228.6M225.6 161.2H228.6M242.7 252V255.3M264.1 252V255.3M285.3 252V255.3M306.4 252V255.3M327.7 252V255.3M348.7 252V255.3"/>
<text class="tl" font-size="6.0" text-anchor="end" x="225.3" y="254.16">0</text>
<text class="tl" font-size="6.0" text-anchor="end" x="225.3" y="231.46">1</text>
<text class="tl" font-size="6.0" text-anchor="end" x="225.3" y="208.76">2</text>
<text class="tl" font-size="6.0" text-anchor="end" x="225.3" y="186.06">3</text>
<text class="tl" font-size="6.0" text-anchor="end" x="225.3" y="163.36">4</text>
<text class="tl" font-size="6.0" text-anchor="middle" letter-spacing="-0.8" x="242.3" y="261.26">C</text>
<text class="tl" font-size="6.0" text-anchor="middle" letter-spacing="-0.8" x="263.7" y="261.26">12</text>
<text class="tl" font-size="6.0" text-anchor="middle" letter-spacing="-0.8" x="284.9" y="261.26">24</text>
<text class="tl" font-size="6.0" text-anchor="middle" letter-spacing="-0.8" x="306" y="261.26">36</text>
<text class="tl" font-size="6.0" text-anchor="middle" letter-spacing="-0.8" x="327.3" y="261.26">48</text>
<text class="tl" font-size="6.0" text-anchor="middle" letter-spacing="-0.8" x="348.3" y="261.26">72</text>
<text class="ti" font-size="7.6" text-anchor="middle" x="296.5" y="151.2" style="white-space:pre" textLength="39" lengthAdjust="spacingAndGlyphs">RCC31 24h</text>
<text class="xl" font-size="6.2" text-anchor="middle" x="293.3" y="268.8" textLength="44.8" lengthAdjust="spacingAndGlyphs">µg/ml Nivolumab</text>
<text class="yl" font-size="5.9" transform="translate(217.2 240.7) rotate(-90)" textLength="67.8" lengthAdjust="spacingAndGlyphs">Relative WST-1 activity</text>
<text class="lb" style='font-family:"Liberation Sans",Arial,sans-serif' font-size="9.5" font-weight="normal" text-anchor="middle" x="219" y="148.6">d</text>
</g>
<g id="panel-e">
<path class="wh" stroke="#606060" d="M34.6 365.2V374.5M30.98 365.2H38.23M30.98 374.5H38.23"/>
<rect class="bx" x="27.35" y="367.7" width="14.5" height="3.8" fill="#ffffff" stroke="#666"/>
<path class="md" stroke="#3a3a3a" d="M27.35 369.5H41.85"/>
<path class="pt" stroke="#444" d="M33.8 365.2a.8 .8 0 1 0 1.6 0a.8 .8 0 1 0-1.6 0M33.8 374.5a.8 .8 0 1 0 1.6 0a.8 .8 0 1 0-1.6 0M33.8 370.6a.8 .8 0 1 0 1.6 0a.8 .8 0 1 0-1.6 0M33.8 372.8a.8 .8 0 1 0 1.6 0a.8 .8 0 1 0-1.6 0M33.8 369.56a.8 .8 0 1 0 1.6 0a.8 .8 0 1 0-1.6 0M33.8 367.01a.8 .8 0 1 0 1.6 0a.8 .8 0 1 0-1.6 0M33.8 370.31a.8 .8 0 1 0 1.6 0a.8 .8 0 1 0-1.6 0"/>
<path class="mn" stroke="#444" d="M33.1 369.68h3M34.6 368.18v3"/>
<path class="wh" stroke="#666" d="M56.3 352.1V379.1M52.67 352.1H59.92M52.67 379.1H59.92"/>
<rect class="bx" x="49.05" y="360.2" width="14.5" height="15.1" fill="#dcdcdc" stroke="#777"/>
<path class="md" stroke="#3a3a3a" d="M49.05 369H63.55"/>
<path class="pt" stroke="#444" d="M55.5 352.1a.8 .8 0 1 0 1.6 0a.8 .8 0 1 0-1.6 0M55.5 379.1a.8 .8 0 1 0 1.6 0a.8 .8 0 1 0-1.6 0M55.5 365.21a.8 .8 0 1 0 1.6 0a.8 .8 0 1 0-1.6 0M55.5 361.27a.8 .8 0 1 0 1.6 0a.8 .8 0 1 0-1.6 0M55.5 377.11a.8 .8 0 1 0 1.6 0a.8 .8 0 1 0-1.6 0M55.5 367.11a.8 .8 0 1 0 1.6 0a.8 .8 0 1 0-1.6 0M55.5 374.38a.8 .8 0 1 0 1.6 0a.8 .8 0 1 0-1.6 0"/>
<path class="mn" stroke="#444" d="M54.8 367.14h3M56.3 365.64v3"/>
<path class="wh" stroke="#5e5e5e" d="M77.8 346.8V377.3M74.17 346.8H81.42M74.17 377.3H81.42"/>
<rect class="bx" x="70.55" y="358.9" width="14.5" height="12.6" fill="#b4b4b4" stroke="#636363"/>
<path class="md" stroke="#3a3a3a" d="M70.55 367.2H85.05"/>
<path class="pt" stroke="#444" d="M77 346.8a.8 .8 0 1 0 1.6 0a.8 .8 0 1 0-1.6 0M77 377.3a.8 .8 0 1 0 1.6 0a.8 .8 0 1 0-1.6 0M77 355.2a.8 .8 0 1 0 1.6 0a.8 .8 0 1 0-1.6 0M77 361.33a.8 .8 0 1 0 1.6 0a.8 .8 0 1 0-1.6 0M77 362.96a.8 .8 0 1 0 1.6 0a.8 .8 0 1 0-1.6 0M77 367.87a.8 .8 0 1 0 1.6 0a.8 .8 0 1 0-1.6 0M77 373.46a.8 .8 0 1 0 1.6 0a.8 .8 0 1 0-1.6 0"/>
<path class="mn" stroke="#444" d="M76.3 364.34h3M77.8 362.84v3"/>
<path class="wh" stroke="#555" d="M99.2 354.4V373.3M95.58 354.4H102.83M95.58 373.3H102.83"/>
<rect class="bx" x="91.95" y="358.2" width="14.5" height="9.5" fill="#8e8e8e" stroke="#505050"/>
<path class="md" stroke="#3a3a3a" d="M91.95 364.7H106.45"/>
<path class="pt" stroke="#444" d="M98.4 354.4a.8 .8 0 1 0 1.6 0a.8 .8 0 1 0-1.6 0M98.4 373.3a.8 .8 0 1 0 1.6 0a.8 .8 0 1 0-1.6 0M98.4 367.98a.8 .8 0 1 0 1.6 0a.8 .8 0 1 0-1.6 0M98.4 357.44a.8 .8 0 1 0 1.6 0a.8 .8 0 1 0-1.6 0M98.4 367.62a.8 .8 0 1 0 1.6 0a.8 .8 0 1 0-1.6 0M98.4 359.49a.8 .8 0 1 0 1.6 0a.8 .8 0 1 0-1.6 0M98.4 364.14a.8 .8 0 1 0 1.6 0a.8 .8 0 1 0-1.6 0"/>
<path class="mn" stroke="#444" d="M97.7 363.66h3M99.2 362.16v3"/>
<path class="wh" stroke="#4a4a4a" d="M120.8 350.6V373.3M117.17 350.6H124.42M117.17 373.3H124.42"/>
<rect class="bx" x="113.55" y="356.9" width="14.5" height="12.1" fill="#686868" stroke="#3c3c3c"/>
<path class="md" stroke="#222" d="M113.55 365.2H128.05"/>
<path class="pt" stroke="#2a2a2a" d="M120 350.6a.8 .8 0 1 0 1.6 0a.8 .8 0 1 0-1.6 0M120 373.3a.8 .8 0 1 0 1.6 0a.8 .8 0 1 0-1.6 0M120 370.94a.8 .8 0 1 0 1.6 0a.8 .8 0 1 0-1.6 0M120 364.12a.8 .8 0 1 0 1.6 0a.8 .8 0 1 0-1.6 0M120 364.05a.8 .8 0 1 0 1.6 0a.8 .8 0 1 0-1.6 0M120 364.44a.8 .8 0 1 0 1.6 0a.8 .8 0 1 0-1.6 0M120 362.93a.8 .8 0 1 0 1.6 0a.8 .8 0 1 0-1.6 0"/>
<path class="mn" stroke="#2a2a2a" d="M119.3 363h3M120.8 361.5v3"/>
<path class="wh" stroke="#3a3a3a" d="M142.4 352.1V373.3M138.78 352.1H146.03M138.78 373.3H146.03"/>
<rect class="bx" x="135.15" y="354.6" width="14.5" height="14.9" fill="#3a3a3a" stroke="#1e1e1e"/>
<path class="md" stroke="#0c0c0c" d="M135.15 363H149.65"/>
<path class="pt" stroke="#000" d="M141.6 352.1a.8 .8 0 1 0 1.6 0a.8 .8 0 1 0-1.6 0M141.6 373.3a.8 .8 0 1 0 1.6 0a.8 .8 0 1 0-1.6 0M141.6 355.49a.8 .8 0 1 0 1.6 0a.8 .8 0 1 0-1.6 0M141.6 362.02a.8 .8 0 1 0 1.6 0a.8 .8 0 1 0-1.6 0M141.6 371.37a.8 .8 0 1 0 1.6 0a.8 .8 0 1 0-1.6 0M141.6 356.06a.8 .8 0 1 0 1.6 0a.8 .8 0 1 0-1.6 0M141.6 357.25a.8 .8 0 1 0 1.6 0a.8 .8 0 1 0-1.6 0"/>
<path class="mn" stroke="#000" d="M140.9 362.5h3M142.4 361v3"/>
<path class="axl" d="M20.6 300.3V392.8H157.3"/>
<path class="tk" d="M16.9 392.8H20.6M16.9 369.77H20.6M16.9 346.75H20.6M16.9 323.73H20.6M16.9 300.7H20.6M34.6 392.8V396.1M56.3 392.8V396.1M77.8 392.8V396.1M99.2 392.8V396.1M120.8 392.8V396.1M142.4 392.8V396.1"/>
<text class="tl" font-size="5.9" text-anchor="end" x="16" y="394.92">0</text>
<text class="tl" font-size="5.9" text-anchor="end" x="16" y="371.9">1</text>
<text class="tl" font-size="5.9" text-anchor="end" x="16" y="348.87">2</text>
<text class="tl" font-size="5.9" text-anchor="end" x="16" y="325.85">3</text>
<text class="tl" font-size="5.9" text-anchor="end" x="16" y="302.82">4</text>
<text class="tl" font-size="5.9" text-anchor="middle" letter-spacing="-0.3" x="34.45" y="403.12">C</text>
<text class="tl" font-size="5.9" text-anchor="middle" letter-spacing="-0.3" x="56.15" y="403.12">12</text>
<text class="tl" font-size="5.9" text-anchor="middle" letter-spacing="-0.3" x="77.65" y="403.12">24</text>
<text class="tl" font-size="5.9" text-anchor="middle" letter-spacing="-0.3" x="99.05" y="403.12">36</text>
<text class="tl" font-size="5.9" text-anchor="middle" letter-spacing="-0.3" x="120.65" y="403.12">48</text>
<text class="tl" font-size="5.9" text-anchor="middle" letter-spacing="-0.3" x="142.25" y="403.12">72</text>
<text class="ti" font-size="7.5" text-anchor="middle" x="88.8" y="289.7" style="white-space:pre" textLength="36.4" lengthAdjust="spacingAndGlyphs">ACHN 48h</text>
<text class="xl" font-size="6.2" text-anchor="middle" x="86.2" y="408.9" textLength="46.5" lengthAdjust="spacingAndGlyphs">µg/ml Nivolumab</text>
<text class="yl" font-size="5.9" transform="translate(8.5 381.05) rotate(-90)" textLength="69.1" lengthAdjust="spacing">Relative WST-1 activity</text>
<text class="lb" style='font-family:"Liberation Serif",serif' font-size="10.5" font-weight="normal" text-anchor="middle" stroke="#111" stroke-width="0.2" x="10.6" y="288.9">e</text>
</g>
<g id="panel-f">
<path class="br" d="M241.6 304.8V301H302.2V304.8"/>
<text class="st" font-size="6.4" x="272.5" y="294.1">*</text>
<path class="br" d="M241.6 317.8V313.5H281.3V317.8"/>
<text class="st" font-size="8.3" x="263.8" y="310.65">*</text>
<path class="wh" stroke="#606060" d="M241.6 355.7V368.2M238.43 355.7H244.77M238.43 368.2H244.77"/>
<rect class="bx" x="234.7" y="360.2" width="13.8" height="5" fill="#ffffff" stroke="#666"/>
<path class="md" stroke="#3a3a3a" d="M234.7 363.5H248.5"/>
<path class="pt" stroke="#444" d="M240.8 355.7a.8 .8 0 1 0 1.6 0a.8 .8 0 1 0-1.6 0M240.8 368.2a.8 .8 0 1 0 1.6 0a.8 .8 0 1 0-1.6 0M240.8 360.27a.8 .8 0 1 0 1.6 0a.8 .8 0 1 0-1.6 0M240.8 358.84a.8 .8 0 1 0 1.6 0a.8 .8 0 1 0-1.6 0M240.8 361.12a.8 .8 0 1 0 1.6 0a.8 .8 0 1 0-1.6 0M240.8 363.29a.8 .8 0 1 0 1.6 0a.8 .8 0 1 0-1.6 0M240.8 359.26a.8 .8 0 1 0 1.6 0a.8 .8 0 1 0-1.6 0"/>
<path class="mn" stroke="#444" d="M240.1 362.56h3M241.6 361.06v3"/>
<path class="wh" stroke="#666" d="M261.6 350.6V367.2M258.43 350.6H264.77M258.43 367.2H264.77"/>
<rect class="bx" x="254.7" y="354.4" width="13.8" height="10.1" fill="#dcdcdc" stroke="#777"/>
<path class="md" stroke="#3a3a3a" d="M254.7 358.4H268.5"/>
<path class="pt" stroke="#444" d="M260.8 350.6a.8 .8 0 1 0 1.6 0a.8 .8 0 1 0-1.6 0M260.8 367.2a.8 .8 0 1 0 1.6 0a.8 .8 0 1 0-1.6 0M260.8 356.96a.8 .8 0 1 0 1.6 0a.8 .8 0 1 0-1.6 0M260.8 360.86a.8 .8 0 1 0 1.6 0a.8 .8 0 1 0-1.6 0M260.8 358.58a.8 .8 0 1 0 1.6 0a.8 .8 0 1 0-1.6 0M260.8 363.3a.8 .8 0 1 0 1.6 0a.8 .8 0 1 0-1.6 0M260.8 360.08a.8 .8 0 1 0 1.6 0a.8 .8 0 1 0-1.6 0"/>
<path class="mn" stroke="#444" d="M260.1 359.02h3M261.6 357.52v3"/>
<path class="wh" stroke="#5e5e5e" d="M281.4 322.4V367.7M278.23 322.4H284.57M278.23 367.7H284.57"/>
<rect class="bx" x="274.5" y="347.1" width="13.8" height="14.9" fill="#b4b4b4" stroke="#636363"/>
<path class="md" stroke="#3a3a3a" d="M274.5 354.6H288.3"/>
<path class="pt" stroke="#444" d="M280.6 322.4a.8 .8 0 1 0 1.6 0a.8 .8 0 1 0-1.6 0M280.6 367.7a.8 .8 0 1 0 1.6 0a.8 .8 0 1 0-1.6 0M280.6 360.16a.8 .8 0 1 0 1.6 0a.8 .8 0 1 0-1.6 0M280.6 354.04a.8 .8 0 1 0 1.6 0a.8 .8 0 1 0-1.6 0M280.6 340.97a.8 .8 0 1 0 1.6 0a.8 .8 0 1 0-1.6 0M280.6 346.61a.8 .8 0 1 0 1.6 0a.8 .8 0 1 0-1.6 0M280.6 360.75a.8 .8 0 1 0 1.6 0a.8 .8 0 1 0-1.6 0"/>
<path class="mn" stroke="#444" d="M279.9 350.76h3M281.4 349.26v3"/>
<path class="wh" stroke="#555" d="M302.2 326.1V368.2M299.03 326.1H305.37M299.03 368.2H305.37"/>
<rect class="bx" x="295.3" y="346.8" width="13.8" height="13.4" fill="#8e8e8e" stroke="#505050"/>
<path class="md" stroke="#3a3a3a" d="M295.3 354.6H309.1"/>
<path class="pt" stroke="#444" d="M301.4 326.1a.8 .8 0 1 0 1.6 0a.8 .8 0 1 0-1.6 0M301.4 368.2a.8 .8 0 1 0 1.6 0a.8 .8 0 1 0-1.6 0M301.4 350.34a.8 .8 0 1 0 1.6 0a.8 .8 0 1 0-1.6 0M301.4 340.9a.8 .8 0 1 0 1.6 0a.8 .8 0 1 0-1.6 0M301.4 361.18a.8 .8 0 1 0 1.6 0a.8 .8 0 1 0-1.6 0M301.4 348.11a.8 .8 0 1 0 1.6 0a.8 .8 0 1 0-1.6 0M301.4 350.63a.8 .8 0 1 0 1.6 0a.8 .8 0 1 0-1.6 0"/>
<path class="mn" stroke="#444" d="M300.7 351.18h3M302.2 349.68v3"/>
<path class="wh" stroke="#4a4a4a" d="M322.4 330.9V367.2M319.23 330.9H325.57M319.23 367.2H325.57"/>
<rect class="bx" x="315.5" y="349.4" width="13.8" height="14.1" fill="#686868" stroke="#3c3c3c"/>
<path class="md" stroke="#222" d="M315.5 358.9H329.3"/>
<path class="pt" stroke="#2a2a2a" d="M321.6 330.9a.8 .8 0 1 0 1.6 0a.8 .8 0 1 0-1.6 0M321.6 367.2a.8 .8 0 1 0 1.6 0a.8 .8 0 1 0-1.6 0M321.6 358a.8 .8 0 1 0 1.6 0a.8 .8 0 1 0-1.6 0M321.6 363.39a.8 .8 0 1 0 1.6 0a.8 .8 0 1 0-1.6 0M321.6 345.51a.8 .8 0 1 0 1.6 0a.8 .8 0 1 0-1.6 0M321.6 351.11a.8 .8 0 1 0 1.6 0a.8 .8 0 1 0-1.6 0M321.6 345.72a.8 .8 0 1 0 1.6 0a.8 .8 0 1 0-1.6 0"/>
<path class="mn" stroke="#2a2a2a" d="M320.9 353.98h3M322.4 352.48v3"/>
<path class="wh" stroke="#3a3a3a" d="M342 335.5V371.5M338.83 335.5H345.17M338.83 371.5H345.17"/>
<rect class="bx" x="335.1" y="353.1" width="13.8" height="12.9" fill="#3a3a3a" stroke="#1e1e1e"/>
<path class="md" stroke="#0c0c0c" d="M335.1 360H348.9"/>
<path class="pt" stroke="#000" d="M341.2 335.5a.8 .8 0 1 0 1.6 0a.8 .8 0 1 0-1.6 0M341.2 371.5a.8 .8 0 1 0 1.6 0a.8 .8 0 1 0-1.6 0M341.2 349.05a.8 .8 0 1 0 1.6 0a.8 .8 0 1 0-1.6 0M341.2 367.88a.8 .8 0 1 0 1.6 0a.8 .8 0 1 0-1.6 0M341.2 349.12a.8 .8 0 1 0 1.6 0a.8 .8 0 1 0-1.6 0M341.2 354.87a.8 .8 0 1 0 1.6 0a.8 .8 0 1 0-1.6 0M341.2 364.33a.8 .8 0 1 0 1.6 0a.8 .8 0 1 0-1.6 0"/>
<path class="mn" stroke="#000" d="M340.5 357.22h3M342 355.72v3"/>
<path class="axl" d="M227.7 298.9V383.7H355.9"/>
<path class="tk" d="M224.8 383.7H227.7M224.8 362.6H227.7M224.8 341.5H227.7M224.8 320.4H227.7M224.8 299.3H227.7M241.6 383.7V386.6M261.6 383.7V386.6M281.4 383.7V386.6M302.2 383.7V386.6M322.4 383.7V386.6M342 383.7V386.6"/>
<text class="tl" font-size="5.5" text-anchor="end" x="224.1" y="385.68">0</text>
<text class="tl" font-size="5.5" text-anchor="end" x="224.1" y="364.58">1</text>
<text class="tl" font-size="5.5" text-anchor="end" x="224.1" y="343.48">2</text>
<text class="tl" font-size="5.5" text-anchor="end" x="224.1" y="322.38">3</text>
<text class="tl" font-size="5.5" text-anchor="end" x="224.1" y="301.28">4</text>
<text class="tl" font-size="5.5" text-anchor="middle" letter-spacing="0.9" x="242.05" y="392.88">C</text>
<text class="tl" font-size="5.5" text-anchor="middle" letter-spacing="0.9" x="262.05" y="392.88">12</text>
<text class="tl" font-size="5.5" text-anchor="middle" letter-spacing="0.9" x="281.85" y="392.88">24</text>
<text class="tl" font-size="5.5" text-anchor="middle" letter-spacing="0.9" x="302.65" y="392.88">36</text>
<text class="tl" font-size="5.5" text-anchor="middle" letter-spacing="0.9" x="322.85" y="392.88">48</text>
<text class="tl" font-size="5.5" text-anchor="middle" letter-spacing="0.9" x="342.45" y="392.88">72</text>
<text class="ti" font-size="7.2" text-anchor="middle" x="292.1" y="288.9" style="white-space:pre" textLength="36.2" lengthAdjust="spacingAndGlyphs">RCC30  48h</text>
<text class="xl" font-size="6.0" text-anchor="middle" x="289.4" y="398.9" textLength="42.6" lengthAdjust="spacingAndGlyphs">µg/ml Nivolumab</text>
<text class="yl" font-size="6.0" transform="translate(216.8 374.05) rotate(-90)" textLength="65.3" lengthAdjust="spacingAndGlyphs">Relative WST-1 activity</text>
<text class="lb" style='font-family:"Liberation Sans",Arial,sans-serif' font-size="9.5" font-weight="normal" text-anchor="middle" x="217.6" y="292">f</text>
</g>
<g id="panel-g">
<path class="wh" stroke="#606060" d="M32.1 493.2V507.3M28.9 493.2H35.3M28.9 507.3H35.3"/>
<rect class="bx" x="25.15" y="499.7" width="13.9" height="3.5" fill="#ffffff" stroke="#666"/>
<path class="md" stroke="#3a3a3a" d="M25.15 501.5H39.05"/>
<path class="pt" stroke="#444" d="M31.3 493.2a.8 .8 0 1 0 1.6 0a.8 .8 0 1 0-1.6 0M31.3 507.3a.8 .8 0 1 0 1.6 0a.8 .8 0 1 0-1.6 0M31.3 498.69a.8 .8 0 1 0 1.6 0a.8 .8 0 1 0-1.6 0M31.3 503.62a.8 .8 0 1 0 1.6 0a.8 .8 0 1 0-1.6 0M31.3 504.12a.8 .8 0 1 0 1.6 0a.8 .8 0 1 0-1.6 0M31.3 500.06a.8 .8 0 1 0 1.6 0a.8 .8 0 1 0-1.6 0M31.3 498.78a.8 .8 0 1 0 1.6 0a.8 .8 0 1 0-1.6 0"/>
<path class="mn" stroke="#444" d="M30.6 500.98h3M32.1 499.48v3"/>
<path class="wh" stroke="#666" d="M51.8 490.7V508.3M48.6 490.7H55M48.6 508.3H55"/>
<rect class="bx" x="44.85" y="500.7" width="13.9" height="4.6" fill="#dcdcdc" stroke="#777"/>
<path class="md" stroke="#3a3a3a" d="M44.85 502.7H58.75"/>
<path class="pt" stroke="#444" d="M51 490.7a.8 .8 0 1 0 1.6 0a.8 .8 0 1 0-1.6 0M51 508.3a.8 .8 0 1 0 1.6 0a.8 .8 0 1 0-1.6 0M51 498.31a.8 .8 0 1 0 1.6 0a.8 .8 0 1 0-1.6 0M51 505.64a.8 .8 0 1 0 1.6 0a.8 .8 0 1 0-1.6 0M51 500.21a.8 .8 0 1 0 1.6 0a.8 .8 0 1 0-1.6 0M51 501.24a.8 .8 0 1 0 1.6 0a.8 .8 0 1 0-1.6 0M51 498.29a.8 .8 0 1 0 1.6 0a.8 .8 0 1 0-1.6 0"/>
<path class="mn" stroke="#444" d="M50.3 501.54h3M51.8 500.04v3"/>
<path class="wh" stroke="#5e5e5e" d="M71.9 493.2V506.5M68.7 493.2H75.1M68.7 506.5H75.1"/>
<rect class="bx" x="64.95" y="495.9" width="13.9" height="8.9" fill="#b4b4b4" stroke="#636363"/>
<path class="md" stroke="#3a3a3a" d="M64.95 501H78.85"/>
<path class="pt" stroke="#444" d="M71.1 493.2a.8 .8 0 1 0 1.6 0a.8 .8 0 1 0-1.6 0M71.1 506.5a.8 .8 0 1 0 1.6 0a.8 .8 0 1 0-1.6 0M71.1 499.07a.8 .8 0 1 0 1.6 0a.8 .8 0 1 0-1.6 0M71.1 503.26a.8 .8 0 1 0 1.6 0a.8 .8 0 1 0-1.6 0M71.1 496.53a.8 .8 0 1 0 1.6 0a.8 .8 0 1 0-1.6 0M71.1 495.61a.8 .8 0 1 0 1.6 0a.8 .8 0 1 0-1.6 0M71.1 497.09a.8 .8 0 1 0 1.6 0a.8 .8 0 1 0-1.6 0"/>
<path class="mn" stroke="#444" d="M70.4 500.28h3M71.9 498.78v3"/>
<path class="wh" stroke="#555" d="M91.6 495.9V509.5M88.4 495.9H94.8M88.4 509.5H94.8"/>
<rect class="bx" x="84.65" y="502.7" width="13.9" height="5.8" fill="#8e8e8e" stroke="#505050"/>
<path class="md" stroke="#3a3a3a" d="M84.65 505.3H98.55"/>
<path class="pt" stroke="#444" d="M90.8 495.9a.8 .8 0 1 0 1.6 0a.8 .8 0 1 0-1.6 0M90.8 509.5a.8 .8 0 1 0 1.6 0a.8 .8 0 1 0-1.6 0M90.8 508.81a.8 .8 0 1 0 1.6 0a.8 .8 0 1 0-1.6 0M90.8 508.24a.8 .8 0 1 0 1.6 0a.8 .8 0 1 0-1.6 0M90.8 503.11a.8 .8 0 1 0 1.6 0a.8 .8 0 1 0-1.6 0M90.8 505.33a.8 .8 0 1 0 1.6 0a.8 .8 0 1 0-1.6 0M90.8 502.08a.8 .8 0 1 0 1.6 0a.8 .8 0 1 0-1.6 0"/>
<path class="mn" stroke="#444" d="M90.1 504.38h3M91.6 502.88v3"/>
<path class="wh" stroke="#4a4a4a" d="M111.8 495.9V511M108.6 495.9H115M108.6 511H115"/>
<rect class="bx" x="104.85" y="501" width="13.9" height="5.5" fill="#686868" stroke="#3c3c3c"/>
<path class="md" stroke="#222" d="M104.85 503.5H118.75"/>
<path class="pt" stroke="#2a2a2a" d="M111 495.9a.8 .8 0 1 0 1.6 0a.8 .8 0 1 0-1.6 0M111 511a.8 .8 0 1 0 1.6 0a.8 .8 0 1 0-1.6 0M111 500.74a.8 .8 0 1 0 1.6 0a.8 .8 0 1 0-1.6 0M111 504.64a.8 .8 0 1 0 1.6 0a.8 .8 0 1 0-1.6 0M111 506.48a.8 .8 0 1 0 1.6 0a.8 .8 0 1 0-1.6 0M111 505.81a.8 .8 0 1 0 1.6 0a.8 .8 0 1 0-1.6 0M111 503.82a.8 .8 0 1 0 1.6 0a.8 .8 0 1 0-1.6 0"/>
<path class="mn" stroke="#2a2a2a" d="M110.3 503.58h3M111.8 502.08v3"/>
<path class="wh" stroke="#3a3a3a" d="M132 501V508.5M128.8 501H135.2M128.8 508.5H135.2"/>
<rect class="bx" x="125.05" y="502.2" width="13.9" height="4.3" fill="#3a3a3a" stroke="#1e1e1e"/>
<path class="md" stroke="#0c0c0c" d="M125.05 504H138.95"/>
<path class="pt" stroke="#000" d="M131.2 501a.8 .8 0 1 0 1.6 0a.8 .8 0 1 0-1.6 0M131.2 508.5a.8 .8 0 1 0 1.6 0a.8 .8 0 1 0-1.6 0M131.2 505.27a.8 .8 0 1 0 1.6 0a.8 .8 0 1 0-1.6 0M131.2 501.95a.8 .8 0 1 0 1.6 0a.8 .8 0 1 0-1.6 0M131.2 505.53a.8 .8 0 1 0 1.6 0a.8 .8 0 1 0-1.6 0M131.2 503.19a.8 .8 0 1 0 1.6 0a.8 .8 0 1 0-1.6 0M131.2 504.85a.8 .8 0 1 0 1.6 0a.8 .8 0 1 0-1.6 0"/>
<path class="mn" stroke="#000" d="M130.5 504.44h3M132 502.94v3"/>
<path class="axl" d="M18.3 437.8V522.4H146"/>
<path class="tk" d="M15.4 522.4H18.3M15.4 501.35H18.3M15.4 480.3H18.3M15.4 459.25H18.3M15.4 438.2H18.3M32.1 522.4V525.3M51.8 522.4V525.3M71.9 522.4V525.3M91.6 522.4V525.3M111.8 522.4V525.3M132 522.4V525.3"/>
<text class="tl" font-size="5.5" text-anchor="end" x="14.8" y="524.38">0</text>
<text class="tl" font-size="5.5" text-anchor="end" x="14.8" y="503.33">1</text>
<text class="tl" font-size="5.5" text-anchor="end" x="14.8" y="482.28">2</text>
<text class="tl" font-size="5.5" text-anchor="end" x="14.8" y="461.23">3</text>
<text class="tl" font-size="5.5" text-anchor="end" x="14.8" y="440.18">4</text>
<text class="tl" font-size="5.5" text-anchor="middle" letter-spacing="0.9" x="32.55" y="531.88">C</text>
<text class="tl" font-size="5.5" text-anchor="middle" letter-spacing="0.9" x="52.25" y="531.88">12</text>
<text class="tl" font-size="5.5" text-anchor="middle" letter-spacing="0.9" x="72.35" y="531.88">24</text>
<text class="tl" font-size="5.5" text-anchor="middle" letter-spacing="0.9" x="92.05" y="531.88">36</text>
<text class="tl" font-size="5.5" text-anchor="middle" letter-spacing="0.9" x="112.25" y="531.88">48</text>
<text class="tl" font-size="5.5" text-anchor="middle" letter-spacing="0.9" x="132.45" y="531.88">72</text>
<text class="ti" font-size="7.1" text-anchor="middle" x="82.3" y="428.4" style="white-space:pre" textLength="35.2" lengthAdjust="spacingAndGlyphs">Caki-1 48h</text>
<text class="xl" font-size="6.2" text-anchor="middle" x="81.3" y="537.9" textLength="45.6" lengthAdjust="spacingAndGlyphs">µg/ml Nivolumab</text>
<text class="yl" font-size="5.8" transform="translate(8.5 512.7) rotate(-90)" textLength="64" lengthAdjust="spacingAndGlyphs">Relative WST-1 activity</text>
<text class="lb" style='font-family:"Liberation Sans",Arial,sans-serif' font-size="9.5" font-weight="normal" text-anchor="middle" x="9.5" y="428.1">g</text>
</g>
<g id="panel-h">
<path class="br" d="M243.3 456.2V451.6H349.8V456.2"/>
<text class="st" font-size="8.3" x="297.4" y="446.15">*</text>
<path class="br" d="M264.8 467.4V463.4H349.8V467.4"/>
<text class="st" font-size="8.3" x="308" y="460.25">*</text>
<path class="br" d="M285.6 478.2V474.6H349.8V478.2"/>
<text class="st" font-size="8.3" x="320.1" y="471.35">*</text>
<path class="br" d="M307.4 489V485.6H349.8V489"/>
<text class="st" font-size="8.3" letter-spacing=".5" x="335.05" y="481.95">**</text>
<path class="wh" stroke="#606060" d="M243.4 500.7V515.8M240.04 500.7H246.76M240.04 515.8H246.76"/>
<rect class="bx" x="236.1" y="502.7" width="14.6" height="8.1" fill="#ffffff" stroke="#666"/>
<path class="md" stroke="#3a3a3a" d="M236.1 506.5H250.7"/>
<path class="pt" stroke="#444" d="M242.6 500.7a.8 .8 0 1 0 1.6 0a.8 .8 0 1 0-1.6 0M242.6 515.8a.8 .8 0 1 0 1.6 0a.8 .8 0 1 0-1.6 0M242.6 513.13a.8 .8 0 1 0 1.6 0a.8 .8 0 1 0-1.6 0M242.6 504.56a.8 .8 0 1 0 1.6 0a.8 .8 0 1 0-1.6 0M242.6 511.01a.8 .8 0 1 0 1.6 0a.8 .8 0 1 0-1.6 0M242.6 502.32a.8 .8 0 1 0 1.6 0a.8 .8 0 1 0-1.6 0M242.6 503.99a.8 .8 0 1 0 1.6 0a.8 .8 0 1 0-1.6 0"/>
<path class="mn" stroke="#444" d="M241.9 507.3h3M243.4 505.8v3"/>
<path class="wh" stroke="#666" d="M264.8 500.7V512.1M261.44 500.7H268.16M261.44 512.1H268.16"/>
<rect class="bx" x="257.5" y="502.2" width="14.6" height="8.1" fill="#dcdcdc" stroke="#777"/>
<path class="md" stroke="#3a3a3a" d="M257.5 506H272.1"/>
<path class="pt" stroke="#444" d="M264 500.7a.8 .8 0 1 0 1.6 0a.8 .8 0 1 0-1.6 0M264 512.1a.8 .8 0 1 0 1.6 0a.8 .8 0 1 0-1.6 0M264 508.16a.8 .8 0 1 0 1.6 0a.8 .8 0 1 0-1.6 0M264 509.73a.8 .8 0 1 0 1.6 0a.8 .8 0 1 0-1.6 0M264 509.23a.8 .8 0 1 0 1.6 0a.8 .8 0 1 0-1.6 0M264 507.74a.8 .8 0 1 0 1.6 0a.8 .8 0 1 0-1.6 0M264 509.75a.8 .8 0 1 0 1.6 0a.8 .8 0 1 0-1.6 0"/>
<path class="mn" stroke="#444" d="M263.3 506.26h3M264.8 504.76v3"/>
<path class="wh" stroke="#5e5e5e" d="M285.7 499.5V511.6M282.34 499.5H289.06M282.34 511.6H289.06"/>
<rect class="bx" x="278.4" y="502" width="14.6" height="7" fill="#b4b4b4" stroke="#636363"/>
<path class="md" stroke="#3a3a3a" d="M278.4 505.3H293"/>
<path class="pt" stroke="#444" d="M284.9 499.5a.8 .8 0 1 0 1.6 0a.8 .8 0 1 0-1.6 0M284.9 511.6a.8 .8 0 1 0 1.6 0a.8 .8 0 1 0-1.6 0M284.9 504.32a.8 .8 0 1 0 1.6 0a.8 .8 0 1 0-1.6 0M284.9 507.08a.8 .8 0 1 0 1.6 0a.8 .8 0 1 0-1.6 0M284.9 504.67a.8 .8 0 1 0 1.6 0a.8 .8 0 1 0-1.6 0M284.9 501.52a.8 .8 0 1 0 1.6 0a.8 .8 0 1 0-1.6 0M284.9 501.49a.8 .8 0 1 0 1.6 0a.8 .8 0 1 0-1.6 0"/>
<path class="mn" stroke="#444" d="M284.2 505.48h3M285.7 503.98v3"/>
<path class="wh" stroke="#555" d="M307 499.5V513.3M303.64 499.5H310.36M303.64 513.3H310.36"/>
<rect class="bx" x="299.7" y="504.5" width="14.6" height="2" fill="#8e8e8e" stroke="#505050"/>
<path class="md" stroke="#3a3a3a" d="M299.7 505.3H314.3"/>
<path class="pt" stroke="#444" d="M306.2 499.5a.8 .8 0 1 0 1.6 0a.8 .8 0 1 0-1.6 0M306.2 513.3a.8 .8 0 1 0 1.6 0a.8 .8 0 1 0-1.6 0M306.2 508.01a.8 .8 0 1 0 1.6 0a.8 .8 0 1 0-1.6 0M306.2 509.88a.8 .8 0 1 0 1.6 0a.8 .8 0 1 0-1.6 0M306.2 505.27a.8 .8 0 1 0 1.6 0a.8 .8 0 1 0-1.6 0M306.2 504.7a.8 .8 0 1 0 1.6 0a.8 .8 0 1 0-1.6 0M306.2 502.98a.8 .8 0 1 0 1.6 0a.8 .8 0 1 0-1.6 0"/>
<path class="mn" stroke="#444" d="M305.5 505.82h3M307 504.32v3"/>
<path class="wh" stroke="#4a4a4a" d="M328.5 494.7V517.1M325.14 494.7H331.86M325.14 517.1H331.86"/>
<rect class="bx" x="321.2" y="506.5" width="14.6" height="3.8" fill="#686868" stroke="#3c3c3c"/>
<path class="md" stroke="#222" d="M321.2 508.3H335.8"/>
<path class="pt" stroke="#2a2a2a" d="M327.7 494.7a.8 .8 0 1 0 1.6 0a.8 .8 0 1 0-1.6 0M327.7 517.1a.8 .8 0 1 0 1.6 0a.8 .8 0 1 0-1.6 0M327.7 504.93a.8 .8 0 1 0 1.6 0a.8 .8 0 1 0-1.6 0M327.7 509.21a.8 .8 0 1 0 1.6 0a.8 .8 0 1 0-1.6 0M327.7 503.8a.8 .8 0 1 0 1.6 0a.8 .8 0 1 0-1.6 0M327.7 503.24a.8 .8 0 1 0 1.6 0a.8 .8 0 1 0-1.6 0M327.7 506.39a.8 .8 0 1 0 1.6 0a.8 .8 0 1 0-1.6 0"/>
<path class="mn" stroke="#2a2a2a" d="M327 507.38h3M328.5 505.88v3"/>
<path class="wh" stroke="#3a3a3a" d="M349.8 503.2V515.3M346.44 503.2H353.16M346.44 515.3H353.16"/>
<rect class="bx" x="342.5" y="509.5" width="14.6" height="5.3" fill="#3a3a3a" stroke="#1e1e1e"/>
<path class="md" stroke="#0c0c0c" d="M342.5 511.5H357.1"/>
<path class="pt" stroke="#000" d="M349 503.2a.8 .8 0 1 0 1.6 0a.8 .8 0 1 0-1.6 0M349 515.3a.8 .8 0 1 0 1.6 0a.8 .8 0 1 0-1.6 0M349 514.66a.8 .8 0 1 0 1.6 0a.8 .8 0 1 0-1.6 0M349 510.3a.8 .8 0 1 0 1.6 0a.8 .8 0 1 0-1.6 0M349 513.87a.8 .8 0 1 0 1.6 0a.8 .8 0 1 0-1.6 0M349 509.66a.8 .8 0 1 0 1.6 0a.8 .8 0 1 0-1.6 0M349 509.47a.8 .8 0 1 0 1.6 0a.8 .8 0 1 0-1.6 0"/>
<path class="mn" stroke="#000" d="M348.3 510.86h3M349.8 509.36v3"/>
<path class="axl" d="M228.6 439V529.1H364.7"/>
<path class="tk" d="M225.6 529.1H228.6M225.6 506.68H228.6M225.6 484.25H228.6M225.6 461.82H228.6M225.6 439.4H228.6M243.4 529.1V532.4M264.8 529.1V532.4M285.7 529.1V532.4M307 529.1V532.4M328.5 529.1V532.4M349.8 529.1V532.4"/>
<text class="tl" font-size="6.0" text-anchor="end" x="225.3" y="531.26">0</text>
<text class="tl" font-size="6.0" text-anchor="end" x="225.3" y="508.84">1</text>
<text class="tl" font-size="6.0" text-anchor="end" x="225.3" y="486.41">2</text>
<text class="tl" font-size="6.0" text-anchor="end" x="225.3" y="463.99">3</text>
<text class="tl" font-size="6.0" text-anchor="end" x="225.3" y="441.56">4</text>
<text class="tl" font-size="6.0" text-anchor="middle" letter-spacing="-0.8" x="243" y="538.06">C</text>
<text class="tl" font-size="6.0" text-anchor="middle" letter-spacing="-0.8" x="264.4" y="538.06">12</text>
<text class="tl" font-size="6.0" text-anchor="middle" letter-spacing="-0.8" x="285.3" y="538.06">24</text>
<text class="tl" font-size="6.0" text-anchor="middle" letter-spacing="-0.8" x="306.6" y="538.06">36</text>
<text class="tl" font-size="6.0" text-anchor="middle" letter-spacing="-0.8" x="328.1" y="538.06">48</text>
<text class="tl" font-size="6.0" text-anchor="middle" letter-spacing="-0.8" x="349.4" y="538.06">72</text>
<text class="ti" font-size="7.5" text-anchor="middle" x="297.1" y="428.9" style="white-space:pre" textLength="39.5" lengthAdjust="spacingAndGlyphs">RCC31 48h</text>
<text class="xl" font-size="6.2" text-anchor="middle" x="293.5" y="545.7" textLength="44.4" lengthAdjust="spacingAndGlyphs">µg/ml Nivolumab</text>
<text class="yl" font-size="6.0" transform="translate(217.4 517.8) rotate(-90)" textLength="68.2" lengthAdjust="spacingAndGlyphs">Relative WST-1 activity</text>
<text class="lb" style='font-family:"Liberation Sans",Arial,sans-serif' font-size="9.5" font-weight="normal" text-anchor="middle" x="220.2" y="429.6">h</text>
</g>
</svg>
</body>
</html>
